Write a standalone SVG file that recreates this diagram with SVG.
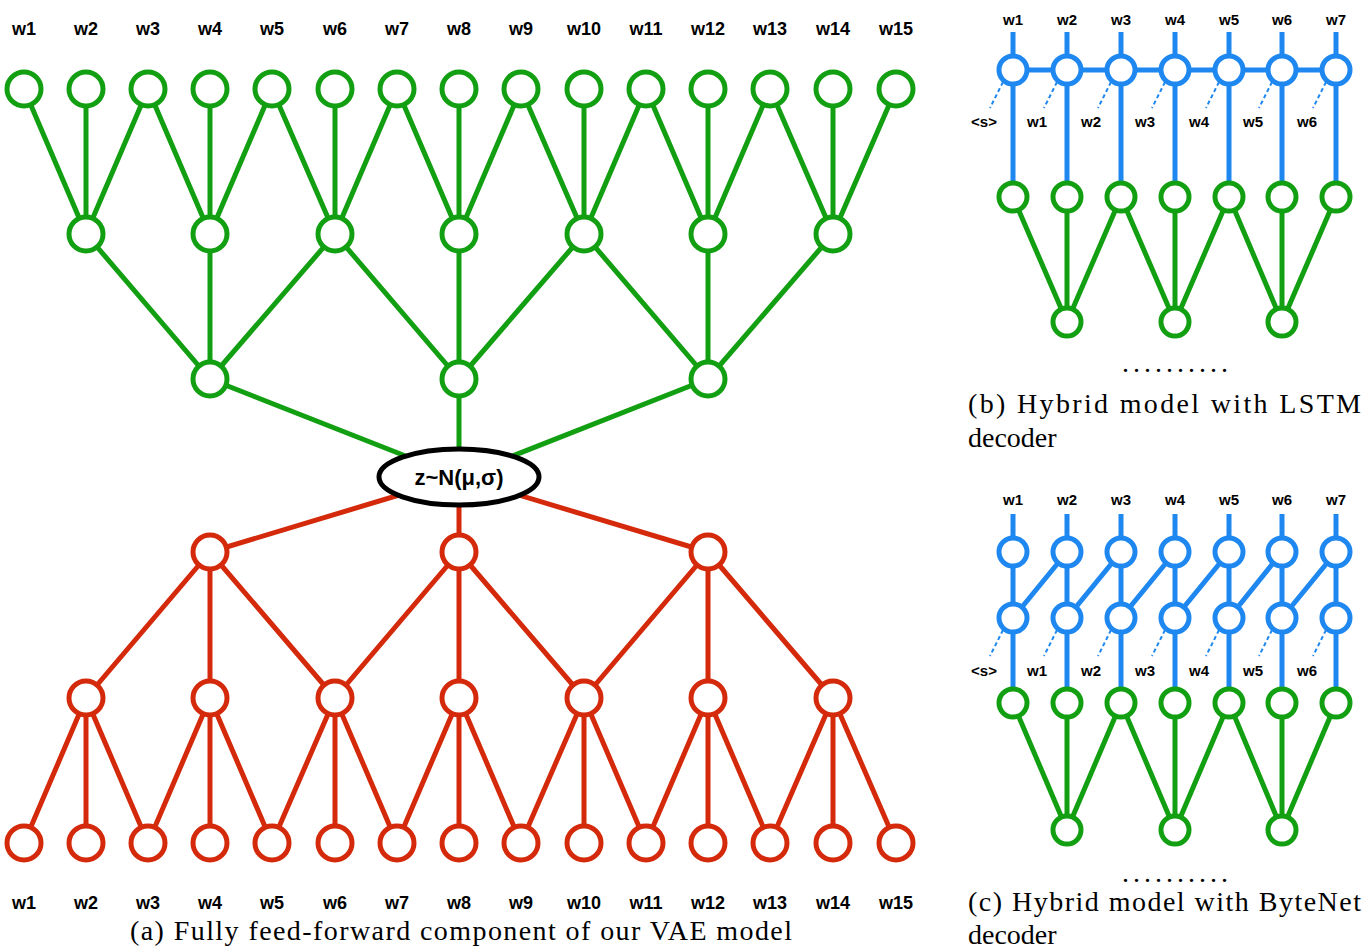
<svg xmlns="http://www.w3.org/2000/svg" width="1363" height="949" viewBox="0 0 1363 949">
<style>
.g{fill:none;stroke:#129f12;stroke-width:5}
.r{fill:none;stroke:#d42a0b;stroke-width:5}
.b{fill:none;stroke:#1e88f0;stroke-width:5}
.d{fill:none;stroke:#1e88f0;stroke-width:2;stroke-dasharray:4,3}
.gn{fill:#fff;stroke:#129f12;stroke-width:5}
.rn{fill:#fff;stroke:#d42a0b;stroke-width:5}
.bn{fill:#fff;stroke:#1e88f0;stroke-width:5}
.l{font-family:"Liberation Sans",Arial,sans-serif;font-weight:bold;font-size:18px;text-anchor:middle}
.s{font-family:"Liberation Sans",Arial,sans-serif;font-weight:bold;font-size:15px;text-anchor:middle}
.c{font-family:"Liberation Serif","Times New Roman",serif;font-size:28px}
</style>
<g id="connectors">
<g class="g">
<path d="M24 89L86 234M86 89L86 234M148 89L86 234M148 89L210 234M210 89L210 234M272 89L210 234M272 89L335 234M335 89L335 234M397 89L335 234M397 89L459 234M459 89L459 234M521 89L459 234M521 89L584 234M584 89L584 234M646 89L584 234M646 89L708 234M708 89L708 234M770 89L708 234M770 89L833 234M833 89L833 234M896 89L833 234"/>
<path d="M86 234L210 379M210 234L210 379M335 234L210 379M335 234L459 379M459 234L459 379M584 234L459 379M584 234L708 379M708 234L708 379M833 234L708 379"/>
<path d="M210 379L459 477M459 379L459 477M708 379L459 477"/>
</g>
<g class="r">
<path d="M210 552L459 477M459 552L459 477M708 552L459 477"/>
<path d="M86 698L210 552M210 698L210 552M335 698L210 552M335 698L459 552M459 698L459 552M584 698L459 552M584 698L708 552M708 698L708 552M833 698L708 552"/>
<path d="M24 843L86 698M86 843L86 698M148 843L86 698M148 843L210 698M210 843L210 698M272 843L210 698M272 843L335 698M335 843L335 698M397 843L335 698M397 843L459 698M459 843L459 698M521 843L459 698M521 843L584 698M584 843L584 698M646 843L584 698M646 843L708 698M708 843L708 698M770 843L708 698M770 843L833 698M833 843L833 698M896 843L833 698"/>
</g>
<g class="b">
<path d="M1013 32V197M1067 32V197M1121 32V197M1175 32V197M1229 32V197M1282 32V197M1336 32V197M1013 70H1336"/>
<path d="M1013 514V703M1067 514V703M1121 514V703M1175 514V703M1229 514V703M1282 514V703M1336 514V703"/>
<path d="M1013 618L1067 552M1067 618L1121 552M1121 618L1175 552M1175 618L1229 552M1229 618L1282 552M1282 618L1336 552"/>
</g>
<g class="d">
<path d="M1003 82L990 108M1057 82L1044 108M1111 82L1098 108M1165 82L1152 108M1219 82L1206 108M1272 82L1259 108M1326 82L1313 108"/>
<path d="M1003 630L990 656M1057 630L1044 656M1111 630L1098 656M1165 630L1152 656M1219 630L1206 656M1272 630L1259 656M1326 630L1313 656"/>
</g>
<g class="g">
<path d="M1013 197L1067 322M1067 197L1067 322M1121 197L1067 322M1121 197L1175 322M1175 197L1175 322M1229 197L1175 322M1229 197L1282 322M1282 197L1282 322M1336 197L1282 322"/>
<path d="M1013 703L1067 830M1067 703L1067 830M1121 703L1067 830M1121 703L1175 830M1175 703L1175 830M1229 703L1175 830M1229 703L1282 830M1282 703L1282 830M1336 703L1282 830"/>
</g>
</g>
<g id="nodes-a-green">
<g id="top"><circle class="gn" cx="24" cy="89" r="17"/><circle class="gn" cx="86" cy="89" r="17"/><circle class="gn" cx="148" cy="89" r="17"/><circle class="gn" cx="210" cy="89" r="17"/><circle class="gn" cx="272" cy="89" r="17"/><circle class="gn" cx="335" cy="89" r="17"/><circle class="gn" cx="397" cy="89" r="17"/><circle class="gn" cx="459" cy="89" r="17"/><circle class="gn" cx="521" cy="89" r="17"/><circle class="gn" cx="584" cy="89" r="17"/><circle class="gn" cx="646" cy="89" r="17"/><circle class="gn" cx="708" cy="89" r="17"/><circle class="gn" cx="770" cy="89" r="17"/><circle class="gn" cx="833" cy="89" r="17"/><circle class="gn" cx="896" cy="89" r="17"/></g>
<g id="mid"><circle class="gn" cx="86" cy="234" r="17"/><circle class="gn" cx="210" cy="234" r="17"/><circle class="gn" cx="335" cy="234" r="17"/><circle class="gn" cx="459" cy="234" r="17"/><circle class="gn" cx="584" cy="234" r="17"/><circle class="gn" cx="708" cy="234" r="17"/><circle class="gn" cx="833" cy="234" r="17"/></g>
<g id="l3"><circle class="gn" cx="210" cy="379" r="17"/><circle class="gn" cx="459" cy="379" r="17"/><circle class="gn" cx="708" cy="379" r="17"/></g>
</g>
<g id="z"><ellipse cx="459" cy="477" rx="80" ry="28" fill="#fff" stroke="#000" stroke-width="5"/><text x="459" y="485" class="l" style="font-size:22px">z~N(μ,σ)</text></g>
<g id="nodes-a-red">
<circle class="rn" cx="210" cy="552" r="17"/><circle class="rn" cx="459" cy="552" r="17"/><circle class="rn" cx="708" cy="552" r="17"/>
<circle class="rn" cx="86" cy="698" r="17"/><circle class="rn" cx="210" cy="698" r="17"/><circle class="rn" cx="335" cy="698" r="17"/><circle class="rn" cx="459" cy="698" r="17"/><circle class="rn" cx="584" cy="698" r="17"/><circle class="rn" cx="708" cy="698" r="17"/><circle class="rn" cx="833" cy="698" r="17"/>
<circle class="rn" cx="24" cy="843" r="17"/><circle class="rn" cx="86" cy="843" r="17"/><circle class="rn" cx="148" cy="843" r="17"/><circle class="rn" cx="210" cy="843" r="17"/><circle class="rn" cx="272" cy="843" r="17"/><circle class="rn" cx="335" cy="843" r="17"/><circle class="rn" cx="397" cy="843" r="17"/><circle class="rn" cx="459" cy="843" r="17"/><circle class="rn" cx="521" cy="843" r="17"/><circle class="rn" cx="584" cy="843" r="17"/><circle class="rn" cx="646" cy="843" r="17"/><circle class="rn" cx="708" cy="843" r="17"/><circle class="rn" cx="770" cy="843" r="17"/><circle class="rn" cx="833" cy="843" r="17"/><circle class="rn" cx="896" cy="843" r="17"/>
</g>
<g id="labels-a">
<text class="l" y="35"><tspan x="24">w1</tspan><tspan x="86">w2</tspan><tspan x="148">w3</tspan><tspan x="210">w4</tspan><tspan x="272">w5</tspan><tspan x="335">w6</tspan><tspan x="397">w7</tspan><tspan x="459">w8</tspan><tspan x="521">w9</tspan><tspan x="584">w10</tspan><tspan x="646">w11</tspan><tspan x="708">w12</tspan><tspan x="770">w13</tspan><tspan x="833">w14</tspan><tspan x="896">w15</tspan></text>
<text class="l" y="909"><tspan x="24">w1</tspan><tspan x="86">w2</tspan><tspan x="148">w3</tspan><tspan x="210">w4</tspan><tspan x="272">w5</tspan><tspan x="335">w6</tspan><tspan x="397">w7</tspan><tspan x="459">w8</tspan><tspan x="521">w9</tspan><tspan x="584">w10</tspan><tspan x="646">w11</tspan><tspan x="708">w12</tspan><tspan x="770">w13</tspan><tspan x="833">w14</tspan><tspan x="896">w15</tspan></text>
<text class="c" x="130" y="940" textLength="662" lengthAdjust="spacing">(a) Fully feed-forward component of our VAE model</text>
</g>
<g id="panel-b">
<circle class="bn" cx="1013" cy="70" r="14"/><circle class="bn" cx="1067" cy="70" r="14"/><circle class="bn" cx="1121" cy="70" r="14"/><circle class="bn" cx="1175" cy="70" r="14"/><circle class="bn" cx="1229" cy="70" r="14"/><circle class="bn" cx="1282" cy="70" r="14"/><circle class="bn" cx="1336" cy="70" r="14"/>
<circle class="gn" cx="1013" cy="197" r="14"/><circle class="gn" cx="1067" cy="197" r="14"/><circle class="gn" cx="1121" cy="197" r="14"/><circle class="gn" cx="1175" cy="197" r="14"/><circle class="gn" cx="1229" cy="197" r="14"/><circle class="gn" cx="1282" cy="197" r="14"/><circle class="gn" cx="1336" cy="197" r="14"/>
<circle class="gn" cx="1067" cy="322" r="14"/><circle class="gn" cx="1175" cy="322" r="14"/><circle class="gn" cx="1282" cy="322" r="14"/>
<text class="s" y="25"><tspan x="1013">w1</tspan><tspan x="1067">w2</tspan><tspan x="1121">w3</tspan><tspan x="1175">w4</tspan><tspan x="1229">w5</tspan><tspan x="1282">w6</tspan><tspan x="1336">w7</tspan></text>
<text class="s" y="127"><tspan x="984">&lt;s&gt;</tspan><tspan x="1037">w1</tspan><tspan x="1091">w2</tspan><tspan x="1145">w3</tspan><tspan x="1199">w4</tspan><tspan x="1253">w5</tspan><tspan x="1307">w6</tspan></text>
<text class="c" x="1122" y="372" textLength="106" lengthAdjust="spacing">..........</text>
<text class="c" x="968" y="413" textLength="393" lengthAdjust="spacing">(b) Hybrid model with LSTM</text>
<text class="c" x="968" y="447">decoder</text>
</g>
<g id="panel-c">
<circle class="bn" cx="1013" cy="552" r="14"/><circle class="bn" cx="1067" cy="552" r="14"/><circle class="bn" cx="1121" cy="552" r="14"/><circle class="bn" cx="1175" cy="552" r="14"/><circle class="bn" cx="1229" cy="552" r="14"/><circle class="bn" cx="1282" cy="552" r="14"/><circle class="bn" cx="1336" cy="552" r="14"/>
<circle class="bn" cx="1013" cy="618" r="14"/><circle class="bn" cx="1067" cy="618" r="14"/><circle class="bn" cx="1121" cy="618" r="14"/><circle class="bn" cx="1175" cy="618" r="14"/><circle class="bn" cx="1229" cy="618" r="14"/><circle class="bn" cx="1282" cy="618" r="14"/><circle class="bn" cx="1336" cy="618" r="14"/>
<circle class="gn" cx="1013" cy="703" r="14"/><circle class="gn" cx="1067" cy="703" r="14"/><circle class="gn" cx="1121" cy="703" r="14"/><circle class="gn" cx="1175" cy="703" r="14"/><circle class="gn" cx="1229" cy="703" r="14"/><circle class="gn" cx="1282" cy="703" r="14"/><circle class="gn" cx="1336" cy="703" r="14"/>
<circle class="gn" cx="1067" cy="830" r="14"/><circle class="gn" cx="1175" cy="830" r="14"/><circle class="gn" cx="1282" cy="830" r="14"/>
<text class="s" y="505"><tspan x="1013">w1</tspan><tspan x="1067">w2</tspan><tspan x="1121">w3</tspan><tspan x="1175">w4</tspan><tspan x="1229">w5</tspan><tspan x="1282">w6</tspan><tspan x="1336">w7</tspan></text>
<text class="s" y="676"><tspan x="984">&lt;s&gt;</tspan><tspan x="1037">w1</tspan><tspan x="1091">w2</tspan><tspan x="1145">w3</tspan><tspan x="1199">w4</tspan><tspan x="1253">w5</tspan><tspan x="1307">w6</tspan></text>
<text class="c" x="1122" y="882" textLength="106" lengthAdjust="spacing">..........</text>
<text class="c" x="968" y="911" textLength="393" lengthAdjust="spacing">(c) Hybrid model with ByteNet</text>
<text class="c" x="968" y="944">decoder</text>
</g>
</svg>
